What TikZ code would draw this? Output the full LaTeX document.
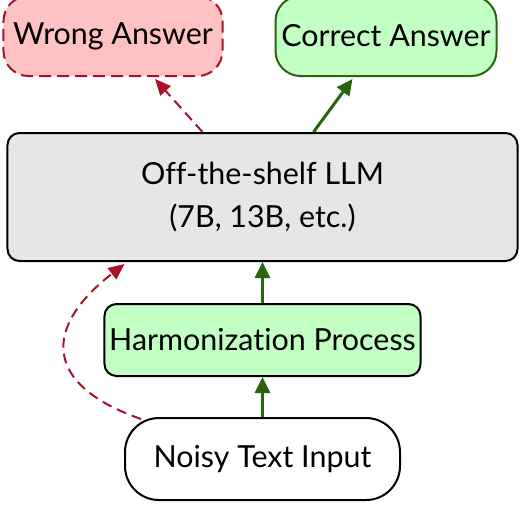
\documentclass[tikz,border=0pt]{standalone}
\usepackage{fontspec}
\setmainfont{Lato}[Ligatures=NoCommon]
\usetikzlibrary{positioning}
\usetikzlibrary{arrows.meta}
\definecolor{wrongred}{HTML}{A8102C}
\definecolor{wrongfill}{HTML}{FFC2C2}
\definecolor{goodgreen}{HTML}{2A6410}
\definecolor{goodfill}{HTML}{C2FFC2}
\definecolor{llmgray}{HTML}{E6E6E6}
\tikzset{basic/.style={draw,line width=1pt,align=center,inner sep=0pt,font=\fontsize{15.2}{21.5}\selectfont}}
\tikzset{inputbox/.style={basic,fill=white,rounded corners=17pt,minimum width=137.5pt,minimum height=41pt}}
\tikzset{processbox/.style={basic,fill=goodfill,rounded corners=6pt,minimum width=158pt,minimum height=36pt}}
\tikzset{modelbox/.style={basic,fill=llmgray,rounded corners=6pt,minimum width=255pt,minimum height=64pt}}
\tikzset{wrongbox/.style={basic,draw=wrongred,fill=wrongfill,dash pattern=on 6pt off 3pt,rounded corners=12.5pt,minimum width=109.5pt,minimum height=40pt}}
\tikzset{correctbox/.style={basic,draw=goodgreen,fill=goodfill,rounded corners=12.5pt,minimum width=110.5pt,minimum height=40pt}}
\tikzset{goodarrow/.style={draw=goodgreen,line width=1.5pt,-{Triangle[length=8pt,width=7.5pt]}}}
\tikzset{badarrow/.style={draw=wrongred,line width=1pt,dash pattern=on 5pt off 3pt,-{Triangle[length=8pt,width=7pt]}}}

\begin{document}
\begin{tikzpicture}
        \useasboundingbox (-131.25pt,-23pt) rectangle (130.25pt,229.5pt);
        \node[inputbox] (noisy) {Noisy Text Input};
        \node[processbox,above=20pt of noisy] (harm) {Harmonization Process};
        \node[modelbox,above=20.5pt of harm] (llm) {Off-the-shelf LLM\\(7B, 13B, etc.)};
        \node[wrongbox,above=27.5pt of llm.north,xshift=-74.75pt] (wrong) {Wrong Answer};
        \node[correctbox,above=27.5pt of llm.north,xshift=61.75pt] (correct) {Correct Answer};
            \path[goodarrow] (noisy) -- (harm);
            \path[goodarrow] (harm) -- (llm);
            \path[goodarrow] ([xshift=25.5pt]llm.north) -- ([xshift=-16.75pt,yshift=-1pt]correct.south);
            \path[badarrow] ([xshift=98pt]llm.north west) -- ([xshift=21pt,yshift=-1pt]wrong.south);
            \path[badarrow] ([xshift=8.5pt,yshift=-1pt]noisy.north west) .. controls +(-50pt,17.5pt) and +(-40pt,-31pt) .. ([xshift=59pt,yshift=-1pt]llm.south west);
    \end{tikzpicture}
\end{document}
